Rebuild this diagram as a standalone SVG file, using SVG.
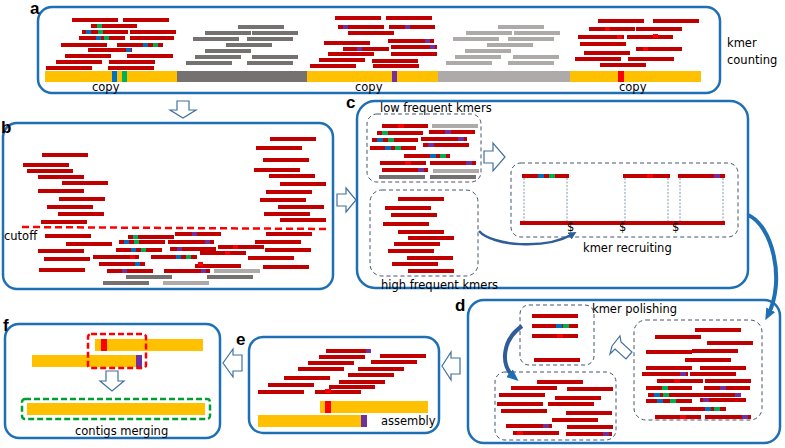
<svg xmlns="http://www.w3.org/2000/svg" width="785" height="448" viewBox="0 0 785 448">
<style>
.box{fill:#fff;stroke:#1f6fb5;stroke-width:2.5}
.db{fill:none;stroke:#44546a;stroke-width:1;stroke-dasharray:4 3}
.r{fill:#c00000}.g{fill:#767171}.l{fill:#aeaaaa}.y{fill:#ffc000}
.bl{fill:#0070c0}.gr{fill:#00b050}.pu{fill:#7030a0}.rd{fill:#ff0000}
.ha{fill:#fff;stroke:#41719c;stroke-width:1.2}
text{font-family:"DejaVu Sans","Liberation Sans",sans-serif;font-size:11.5px;fill:#000}
.lt{font-family:"Liberation Sans",Arial,sans-serif;font-weight:bold;font-size:17px}
</style>
<defs>
<marker id="bh" markerUnits="userSpaceOnUse" markerWidth="12" markerHeight="12" refX="6" refY="6" orient="auto"><path d="M0,1 L12,6 L0,11 z" fill="#1f6fb5"/></marker>
<marker id="sh" markerUnits="userSpaceOnUse" markerWidth="8" markerHeight="8" refX="4" refY="4" orient="auto"><path d="M0,0 L8,4 L0,8 z" fill="#2e5d9a"/></marker>
</defs>
<g id="panel-a">
<rect class="box" x="38" y="7" width="682" height="86" rx="14"/>
<text class="lt" x="30" y="14">a</text>
<rect class="y" x="45" y="71" width="132" height="11"/><rect class="g" x="177" y="71" width="130" height="11"/><rect class="y" x="307" y="71" width="131" height="11"/><rect class="l" x="438" y="71" width="132" height="11"/><rect class="y" x="570" y="71" width="131" height="11"/>
<rect class="bl" x="112" y="71" width="5" height="11"/><rect class="gr" x="122" y="71" width="5" height="11"/><rect class="pu" x="392" y="71" width="5" height="11"/><rect class="rd" x="618" y="71" width="6" height="11"/>
<g class="r"><rect x="72" y="18" width="46" height="4"/><rect x="123" y="18" width="46" height="4"/><rect x="91" y="24" width="46" height="4"/><rect x="82" y="30" width="46" height="4"/><rect x="130" y="30" width="46" height="4"/><rect x="79" y="36" width="46" height="4"/><rect x="130" y="36" width="44" height="4"/><rect x="61" y="43" width="46" height="4"/><rect x="117" y="43" width="46" height="4"/><rect x="88" y="48" width="44" height="4"/><rect x="65" y="54" width="46" height="4"/><rect x="127" y="54" width="46" height="4"/><rect x="56" y="60" width="46" height="4"/><rect x="109" y="60" width="46" height="4"/><rect x="46" y="66" width="46" height="4"/><rect x="108" y="66" width="46" height="4"/>
<rect x="335" y="16" width="46" height="4"/><rect x="386" y="16" width="46" height="4"/><rect x="338" y="25" width="46" height="4"/><rect x="389" y="25" width="46" height="4"/><rect x="348" y="31" width="46" height="4"/><rect x="324" y="41" width="46" height="4"/><rect x="388" y="39" width="46" height="4"/><rect x="343" y="47" width="46" height="4"/><rect x="391" y="45" width="46" height="4"/><rect x="328" y="52" width="46" height="4"/><rect x="391" y="52" width="46" height="4"/><rect x="319" y="58" width="46" height="4"/><rect x="372" y="59" width="46" height="4"/><rect x="310" y="64" width="46" height="4"/><rect x="373" y="64" width="46" height="4"/>
<rect x="598" y="19" width="46" height="4"/><rect x="653" y="19" width="46" height="4"/><rect x="589" y="27" width="46" height="4"/><rect x="636" y="27" width="46" height="4"/><rect x="578" y="35" width="46" height="4"/><rect x="627" y="35" width="46" height="4"/><rect x="580" y="42" width="46" height="4"/><rect x="636" y="47" width="46" height="4"/><rect x="584" y="51" width="46" height="4"/><rect x="575" y="57" width="46" height="4"/><rect x="628" y="57" width="46" height="4"/><rect x="600" y="63" width="46" height="4"/></g>
<g class="g"><rect x="238" y="25" width="46" height="4"/><rect x="205" y="31" width="46" height="4"/><rect x="252" y="31" width="46" height="4"/><rect x="193" y="37" width="46" height="4"/><rect x="247" y="37" width="46" height="4"/><rect x="226" y="43" width="46" height="4"/><rect x="205" y="49" width="46" height="4"/><rect x="252" y="55" width="46" height="4"/><rect x="195" y="55" width="46" height="4"/><rect x="186" y="61" width="46" height="4"/><rect x="247" y="61" width="46" height="4"/></g>
<g class="l"><rect x="498" y="25" width="46" height="4"/><rect x="466" y="31" width="46" height="4"/><rect x="514" y="31" width="46" height="4"/><rect x="453" y="37" width="46" height="4"/><rect x="508" y="37" width="46" height="4"/><rect x="487" y="43" width="46" height="4"/><rect x="465" y="49" width="46" height="4"/><rect x="513" y="55" width="46" height="4"/><rect x="455" y="55" width="46" height="4"/><rect x="446" y="61" width="46" height="4"/><rect x="508" y="61" width="46" height="4"/></g>
<rect class="gr" x="97" y="24" width="5" height="4"/><rect class="bl" x="86" y="30" width="5" height="4"/><rect class="gr" x="98" y="30" width="5" height="4"/><rect class="bl" x="96" y="36" width="5" height="4"/><rect class="gr" x="104" y="36" width="5" height="4"/><rect class="bl" x="143" y="43" width="5" height="4"/><rect class="gr" x="153" y="43" width="5" height="4"/><rect class="bl" x="126" y="48" width="5" height="4"/>
<g class="pu"><rect x="343" y="25" width="5" height="4"/><rect x="405" y="25" width="5" height="4"/><rect x="425" y="39" width="5" height="4"/><rect x="357" y="47" width="5" height="4"/><rect x="430" y="45" width="5" height="4"/></g>
<g class="rd"><rect x="605" y="27" width="5" height="4"/><rect x="617" y="35" width="5" height="4"/><rect x="653" y="34" width="5" height="4"/><rect x="643" y="47" width="5" height="4"/></g>
<text x="92" y="91">copy</text><text x="355" y="91">copy</text><text x="619" y="91">copy</text>
<text x="727" y="47">kmer</text><text x="727" y="64">counting</text>
</g>
<g id="panel-b">
<rect class="box" x="3" y="123" width="330" height="166" rx="14"/>
<text class="lt" x="1" y="133">b</text>
<g class="r"><rect x="42" y="153" width="46" height="4"/><rect x="23" y="163" width="46" height="4"/><rect x="27" y="169" width="46" height="4"/><rect x="38" y="175" width="46" height="4"/><rect x="62" y="181" width="46" height="4"/><rect x="38" y="189" width="46" height="4"/><rect x="59" y="197" width="46" height="4"/><rect x="47" y="205" width="46" height="4"/><rect x="58" y="212" width="46" height="4"/><rect x="41" y="220" width="46" height="4"/>
<rect x="270" y="137" width="46" height="4"/><rect x="256" y="146" width="46" height="4"/><rect x="263" y="158" width="46" height="4"/><rect x="254" y="168" width="46" height="4"/><rect x="269" y="174" width="46" height="4"/><rect x="280" y="182" width="46" height="4"/><rect x="266" y="190" width="46" height="4"/><rect x="260" y="198" width="46" height="4"/><rect x="278" y="205" width="46" height="4"/><rect x="264" y="212" width="46" height="4"/><rect x="280" y="218" width="46" height="4"/>
<rect x="45" y="234" width="46" height="4"/><rect x="66" y="242" width="46" height="4"/><rect x="38" y="249" width="46" height="4"/><rect x="44" y="257" width="46" height="4"/><rect x="39" y="268" width="46" height="4"/><rect x="266" y="232" width="46" height="4"/><rect x="255" y="240" width="46" height="4"/><rect x="265" y="248" width="46" height="4"/><rect x="248" y="256" width="46" height="4"/><rect x="263" y="265" width="46" height="4"/>
<rect x="128" y="235" width="46" height="4"/><rect x="175" y="232" width="46" height="4"/><rect x="119" y="240" width="46" height="4"/><rect x="168" y="240" width="46" height="4"/><rect x="116" y="248" width="46" height="4"/><rect x="170" y="247" width="46" height="4"/><rect x="93" y="255" width="46" height="4"/><rect x="151" y="255" width="46" height="4"/><rect x="218" y="245" width="46" height="4"/><rect x="200" y="251" width="46" height="4"/><rect x="99" y="262" width="46" height="4"/><rect x="195" y="264" width="46" height="4"/><rect x="107" y="269" width="46" height="4"/><rect x="164" y="269" width="46" height="4"/></g>
<rect class="l" x="214" y="269" width="46" height="4"/><rect class="g" x="126" y="275" width="46" height="4"/><rect class="g" x="207" y="275" width="46" height="4"/><rect class="g" x="103" y="281" width="46" height="4"/><rect class="l" x="163" y="281" width="46" height="4"/>
<rect class="gr" x="133" y="235" width="5" height="4"/><rect class="bl" x="124" y="240" width="5" height="4"/><rect class="gr" x="134" y="240" width="5" height="4"/><rect class="bl" x="131" y="248" width="5" height="4"/><rect class="gr" x="141" y="248" width="5" height="4"/><rect class="bl" x="176" y="255" width="5" height="4"/><rect class="gr" x="186" y="255" width="5" height="4"/><rect class="bl" x="135" y="262" width="5" height="4"/>
<g class="pu"><rect x="192" y="232" width="5" height="4"/><rect x="205" y="240" width="5" height="4"/><rect x="177" y="247" width="5" height="4"/><rect x="122" y="269" width="5" height="4"/><rect x="201" y="269" width="5" height="4"/></g>
<g class="rd"><rect x="130" y="255" width="5" height="4"/><rect x="233" y="245" width="5" height="4"/><rect x="225" y="251" width="5" height="4"/><rect x="198" y="262" width="5" height="4"/></g>
<line x1="22" y1="227" x2="330" y2="229" stroke="#ff0000" stroke-width="2.5" stroke-dasharray="7 4"/>
<text x="4" y="240">cutoff</text>
</g>
<g id="panel-c">
<rect class="box" x="357" y="101" width="391" height="187" rx="18"/>
<text class="lt" x="346" y="108">c</text>
<text x="380" y="112">low frequent kmers</text>
<rect class="db" x="367" y="114" width="114" height="68" rx="10"/>
<g class="r"><rect x="382" y="124" width="46" height="4"/><rect x="377" y="131" width="46" height="4"/><rect x="429" y="130" width="46" height="4"/><rect x="372" y="138" width="46" height="4"/><rect x="421" y="137" width="46" height="4"/><rect x="370" y="146" width="46" height="4"/><rect x="423" y="143" width="46" height="4"/><rect x="404" y="154" width="46" height="4"/><rect x="380" y="161" width="46" height="4"/><rect x="430" y="161" width="46" height="4"/><rect x="382" y="168" width="46" height="4"/></g>
<rect class="l" x="432" y="124" width="46" height="4"/><rect class="l" x="433" y="169" width="46" height="4"/><rect class="g" x="379" y="175" width="46" height="4"/><rect class="g" x="430" y="175" width="46" height="4"/>
<rect class="rd" x="398" y="124" width="6" height="4"/><rect class="gr" x="382" y="131" width="6" height="4"/><rect class="pu" x="445" y="130" width="6" height="4"/><rect class="bl" x="377" y="138" width="6" height="4"/><rect class="gr" x="388" y="138" width="6" height="4"/><rect class="pu" x="458" y="137" width="6" height="4"/><rect class="bl" x="385" y="146" width="6" height="4"/><rect class="gr" x="395" y="146" width="6" height="4"/><rect class="pu" x="428" y="143" width="6" height="4"/><rect class="bl" x="430" y="154" width="6" height="4"/><rect class="gr" x="440" y="154" width="6" height="4"/><rect class="rd" x="405" y="161" width="6" height="4"/><rect class="pu" x="466" y="161" width="6" height="4"/><rect class="pu" x="418" y="168" width="6" height="4"/>
<rect class="db" x="370" y="190" width="108" height="86" rx="12"/>
<g class="r"><rect x="398" y="197" width="46" height="4"/><rect x="385" y="206" width="46" height="4"/><rect x="391" y="213" width="46" height="4"/><rect x="383" y="222" width="46" height="4"/><rect x="398" y="230" width="46" height="4"/><rect x="408" y="236" width="46" height="4"/><rect x="394" y="242" width="46" height="4"/><rect x="388" y="249" width="46" height="4"/><rect x="407" y="256" width="46" height="4"/><rect x="392" y="262" width="46" height="4"/><rect x="408" y="269" width="46" height="4"/></g>
<text x="381" y="289">high frequent kmers</text>
<polygon class="ha" points="484,151 493,151 493,143 505,157 493,171 493,163 484,163"/>
<rect class="db" x="511" y="163" width="227" height="74" rx="10"/>
<g class="r"><rect x="522" y="174" width="47" height="4"/><rect x="623" y="174" width="47" height="4"/><rect x="678" y="174" width="47" height="4"/><rect x="520" y="221" width="205" height="4"/></g>
<rect class="bl" x="538" y="174" width="6" height="4"/><rect class="gr" x="549" y="174" width="6" height="4"/><rect class="rd" x="647" y="174" width="6" height="4"/><rect class="pu" x="714" y="174" width="6" height="4"/>
<g stroke="#8497b0" stroke-width="1" stroke-dasharray="2 1.5"><line x1="524" y1="178" x2="524" y2="221"/><line x1="567" y1="178" x2="567" y2="221"/><line x1="625" y1="178" x2="625" y2="221"/><line x1="668" y1="178" x2="668" y2="221"/><line x1="680" y1="178" x2="680" y2="221"/><line x1="723" y1="178" x2="723" y2="221"/></g>
<text x="567" y="231" font-size="12">$</text><text x="619" y="231" font-size="12">$</text><text x="672" y="231" font-size="12">$</text>
<text x="583" y="252">kmer recruiting</text>
</g>
<g id="panel-d">
<rect class="box" x="468" y="300" width="312" height="143" rx="16"/>
<text class="lt" x="455" y="311">d</text>
<text x="592" y="313">kmer polishing</text>
<rect class="db" x="520" y="305" width="74" height="60" rx="9"/>
<rect class="db" x="634" y="320" width="128" height="100" rx="12"/>
<rect class="db" x="495" y="372" width="121" height="68" rx="10"/>
<g class="r"><rect x="532" y="314" width="46" height="4"/><rect x="532" y="324" width="46" height="4"/><rect x="532" y="334" width="46" height="4"/><rect x="534" y="358" width="46" height="4"/>
<rect x="695" y="328" width="46" height="4"/><rect x="655" y="335" width="46" height="4"/><rect x="707" y="341" width="46" height="4"/><rect x="646" y="350" width="46" height="4"/><rect x="692" y="349" width="46" height="4"/><rect x="685" y="358" width="46" height="4"/><rect x="646" y="366" width="46" height="4"/><rect x="700" y="366" width="46" height="4"/><rect x="642" y="372" width="46" height="4"/><rect x="690" y="372" width="46" height="4"/><rect x="657" y="379" width="46" height="4"/><rect x="705" y="379" width="46" height="4"/><rect x="646" y="386" width="46" height="4"/><rect x="704" y="386" width="46" height="4"/><rect x="648" y="393" width="46" height="4"/><rect x="694" y="393" width="46" height="4"/><rect x="646" y="399" width="46" height="4"/><rect x="700" y="398" width="46" height="4"/><rect x="680" y="407" width="46" height="4"/><rect x="655" y="415" width="46" height="4"/><rect x="705" y="415" width="46" height="4"/>
<rect x="537" y="380" width="46" height="4"/><rect x="511" y="386" width="46" height="4"/><rect x="567" y="387" width="46" height="4"/><rect x="499" y="393" width="46" height="4"/><rect x="555" y="396" width="46" height="4"/><rect x="497" y="402" width="46" height="4"/><rect x="548" y="402" width="46" height="4"/><rect x="501" y="409" width="46" height="4"/><rect x="566" y="411" width="46" height="4"/><rect x="552" y="418" width="46" height="4"/><rect x="506" y="424" width="46" height="4"/><rect x="567" y="425" width="46" height="4"/><rect x="513" y="431" width="46" height="4"/><rect x="566" y="432" width="46" height="4"/></g>
<rect class="bl" x="556" y="324" width="6" height="4"/><rect class="gr" x="563" y="324" width="6" height="4"/><rect class="rd" x="557" y="334" width="6" height="4"/>
<rect class="pu" x="680" y="372" width="6" height="4"/><rect class="rd" x="674" y="379" width="6" height="4"/><rect class="gr" x="662" y="386" width="6" height="4"/><rect class="pu" x="720" y="386" width="6" height="4"/><rect class="bl" x="654" y="393" width="6" height="4"/><rect class="gr" x="663" y="393" width="6" height="4"/><rect class="pu" x="735" y="393" width="6" height="4"/><rect class="bl" x="657" y="399" width="6" height="4"/><rect class="gr" x="670" y="399" width="6" height="4"/><rect class="pu" x="703" y="398" width="6" height="4"/><rect class="bl" x="705" y="407" width="6" height="4"/><rect class="gr" x="714" y="407" width="6" height="4"/><rect class="rd" x="680" y="415" width="6" height="4"/><rect class="pu" x="742" y="415" width="6" height="4"/>
<rect class="pu" x="543" y="424" width="6" height="4"/><rect class="rd" x="517" y="431" width="6" height="4"/><rect class="pu" x="603" y="432" width="6" height="4"/>
<polygon class="ha" points="612,346 620,336 621,342 632,352 626,359 615,349 610,354"/>
</g>
<g id="panel-e">
<rect class="box" x="249" y="337" width="190" height="96" rx="14"/>
<text class="lt" x="236" y="345">e</text>
<g class="r"><rect x="326" y="349" width="40" height="4"/><rect x="380" y="354" width="46" height="4"/><rect x="319" y="355" width="46" height="4"/><rect x="371" y="360" width="46" height="4"/><rect x="308" y="361" width="46" height="4"/><rect x="358" y="367" width="46" height="4"/><rect x="298" y="367" width="46" height="4"/><rect x="348" y="373" width="46" height="4"/><rect x="284" y="376" width="46" height="4"/><rect x="339" y="380" width="46" height="4"/><rect x="268" y="383" width="46" height="4"/><rect x="329" y="385" width="46" height="4"/><rect x="258" y="390" width="46" height="4"/><rect x="315" y="390" width="46" height="4"/></g>
<rect class="pu" x="366" y="349" width="5" height="4"/><rect class="rd" x="325" y="389" width="6" height="4"/>
<rect class="y" x="320" y="401" width="108" height="12"/><rect class="rd" x="325" y="401" width="6" height="12"/>
<rect class="y" x="258" y="415" width="108" height="12"/><rect class="pu" x="361" y="415" width="6" height="12"/>
<text x="381" y="425">assembly</text>
</g>
<g id="panel-f">
<rect class="box" x="5" y="324" width="215" height="114" rx="14"/>
<text class="lt" x="3" y="331">f</text>
<rect class="y" x="95" y="339" width="108" height="12"/><rect class="rd" x="101" y="339" width="6" height="12"/>
<rect class="y" x="32" y="355" width="110" height="12"/><rect class="pu" x="136" y="355" width="6" height="12"/>
<rect x="88" y="334" width="58" height="34" rx="3" fill="none" stroke="#ff0000" stroke-width="2.5" stroke-dasharray="6 3"/>
<polygon class="ha" points="106,371 118,371 118,381 124,381 112,391 100,381 106,381"/>
<rect class="y" x="27" y="403" width="178" height="12"/>
<rect x="22" y="399" width="188" height="20" rx="3" fill="none" stroke="#00a030" stroke-width="2.5" stroke-dasharray="6 3"/>
<text x="75" y="435">contigs merging</text>
</g>
<g id="connectors">
<polygon class="ha" points="177,101 189,101 189,110 196,110 183,118 170,110 177,110"/>
<polygon class="ha" points="337,194 346,194 346,188 356,200 346,212 346,206 337,206"/>
<polygon class="ha" points="460,358 451,358 451,352 442,366 451,380 451,374 460,374"/>
<polygon class="ha" points="242,355 233,355 233,349 223,363 233,377 233,371 242,371"/>
<path d="M479,231 C492,246 545,250 573,234" fill="none" stroke="#2e5d9a" stroke-width="2.5" marker-end="url(#sh)"/>
<path d="M748,215 C772,225 786,280 768,315" fill="none" stroke="#1f6fb5" stroke-width="4" marker-end="url(#bh)"/>
<path d="M522,326 C502,340 500,365 514,377" fill="none" stroke="#2e5d9a" stroke-width="4" marker-end="url(#bh)"/>
</g>
</svg>
